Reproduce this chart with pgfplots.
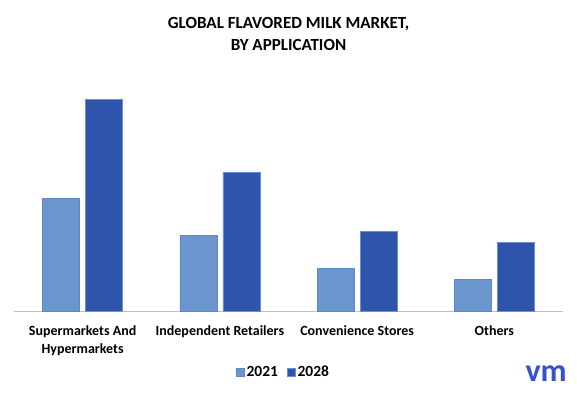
\documentclass[border=0pt]{standalone}
\usepackage{fontspec}
\setmainfont{Carlito}
\usepackage{pgfplots}
\pgfplotsset{compat=1.18}
\definecolor{c21}{HTML}{6A96CD}
\definecolor{c28}{HTML}{2E54AB}
\definecolor{e21}{HTML}{5A88C8}
\definecolor{e28}{HTML}{6A8ED0}
\definecolor{logo}{HTML}{3551CC}
\begin{document}
\begin{tikzpicture}[x=1pt,y=1pt]
\path (0,0) rectangle (577,392);
\node[font=\bfseries\fontsize{17}{21.5}\selectfont, align=center] at (288.5,358) {GLOBAL FLAVORED MILK MARKET,\\BY APPLICATION};
\begin{axis}[
  at={(14pt,81pt)}, anchor=south west,
  scale only axis, width=549pt, height=220pt,
  xmin=-0.5, xmax=3.5, ymin=0, ymax=220,
  axis x line=bottom, axis y line=none,
  axis line style={draw=black!25, line width=1pt, -},
  xtick={0,1,2,3},
  xticklabels={Supermarkets And\\Hypermarkets, Independent Retailers, Convenience Stores, Others},
  xticklabel style={font=\bfseries\fontsize{14}{18}\selectfont, align=center, yshift=-11pt},
  major tick length=0pt,
  ytick=\empty,
  ybar=6pt, bar width=37pt,
  legend style={at={(0.5,-0.232)}, xshift=-5pt, anchor=north, draw=none, legend columns=2,
    font=\bfseries\fontsize{15.5}{17}\selectfont,
    /tikz/every even column/.append style={column sep=7pt}},
  legend image code/.code={\fill[#1] (0pt,-4pt) rectangle (8pt,4pt);},
]
\addplot[fill=c21, draw=e21, line width=0.6pt] coordinates {(0,113) (1,76) (2,43) (3,32)};
\addplot[fill=c28, draw=e28, line width=0.6pt] coordinates {(0,212) (1,139) (2,80) (3,69)};
\legend{2021,2028}
\end{axis}
\node[font=\bfseries\fontsize{32}{32}\selectfont, text=logo, anchor=west] at (522,18) {vm};
\end{tikzpicture}
\end{document}
